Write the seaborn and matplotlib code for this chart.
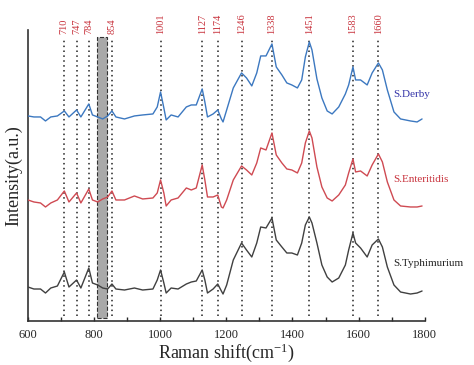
import numpy as np
import matplotlib
matplotlib.use("Agg")
import matplotlib.pyplot as plt
import seaborn as sns

# Raman shift grid (cm-1) shared by the three spectra
shift = [600, 618, 638, 653, 669, 689, 710, 724, 747, 760, 784, 795, 811, 826, 841,
         854, 866, 892, 922, 947, 978, 991, 1001, 1011, 1018, 1033, 1054, 1079, 1094,
         1109, 1127, 1135, 1143, 1160, 1174, 1185, 1190, 1201, 1221, 1246, 1261, 1277,
         1292, 1304, 1320, 1338, 1351, 1368, 1383, 1398, 1415, 1428, 1439, 1451, 1459,
         1474, 1489, 1505, 1520, 1540, 1560, 1570, 1583, 1591, 1606, 1626, 1641, 1660,
         1672, 1687, 1707, 1727, 1757, 1777, 1792]

# intensities (a.u.), stacked with offsets as in the figure
derby = [205, 204, 204, 200, 204, 205, 210, 204, 211, 204, 217, 206, 204, 202, 205,
         210, 204, 202, 205, 206, 207, 214, 229, 213, 201, 206, 204, 214, 216,
         216, 232, 219, 204, 207, 211, 202, 199, 211, 233, 248, 243, 235,
         248, 265, 265, 277, 254, 246, 238, 236, 233, 241, 264, 279, 271,
         242, 223, 210, 207, 214, 227, 236, 254, 241, 241, 236, 248, 258,
         251, 231, 209, 202, 200, 199, 202]

enteritidis = [121, 119, 118, 114, 118, 121, 130, 119, 128, 118, 132, 121, 119, 122, 124,
               130, 121, 121, 125, 122, 123, 128, 141, 128, 115, 121, 123, 133, 131,
               133, 156, 141, 124, 124, 126, 114, 113, 121, 141, 155, 151, 146,
               158, 173, 171, 188, 166, 158, 152, 151, 148, 158, 178, 190, 183,
               154, 134, 123, 120, 126, 136, 148, 162, 149, 150, 145, 156, 167,
               159, 139, 121, 115, 114, 114, 115]

typhimurium = [34, 32, 32, 28, 33, 35, 49, 34, 41, 33, 53, 38, 36, 33, 32,
               37, 32, 31, 33, 31, 32, 41, 51, 38, 28, 33, 32, 37, 39,
               40, 51, 41, 28, 32, 37, 30, 27, 36, 61, 78, 71, 64,
               78, 94, 93, 103, 81, 74, 68, 68, 66, 78, 96, 104, 98,
               78, 56, 44, 39, 43, 56, 71, 88, 78, 73, 64, 76, 82,
               74, 54, 36, 29, 27, 28, 30]

peaks = [710, 747, 784, 854, 1001, 1127, 1174, 1246, 1338, 1451, 1583, 1660]
band = (810, 840)

sns.set_style("ticks")
plt.rcParams['font.family'] = ['Liberation Serif', 'DejaVu Serif']
plt.rcParams['mathtext.fontset'] = 'stix'

fig = plt.figure(figsize=(4.74, 3.65), dpi=100)
ax = fig.add_axes([0.059, 0.1205, 0.837, 0.7975])

# shaded band and dotted peak markers
ax.axvspan(band[0], band[1], ymin=3 / 291, ymax=284 / 291, facecolor='#a9a9a9',
           edgecolor='#333333', linestyle='--', linewidth=0.8, zorder=1)
ax.vlines(peaks, 5, 283, colors='#222222', linestyles=(0, (1, 2.2)), linewidth=1.1, zorder=1)
for p in peaks:
    ax.text(p, 287, str(p), rotation=90, ha='center', va='bottom',
            color='#c8323c', fontsize=7.5)

sns.lineplot(x=shift, y=derby, color='#3c78c0', linewidth=1.0, ax=ax, zorder=3)
sns.lineplot(x=shift, y=enteritidis, color='#cf4a52', linewidth=1.0, ax=ax, zorder=3)
sns.lineplot(x=shift, y=typhimurium, color='#404040', linewidth=1.0, ax=ax, zorder=3)

ax.text(1706, 226, 'S.Derby', color='#3333a8', fontsize=8, va='center', ha='left')
ax.text(1706, 141, 'S.Enteritidis', color='#c8323c', fontsize=8, va='center', ha='left')
ax.text(1706, 58, 'S.Typhimurium', color='#222222', fontsize=8, va='center', ha='left')

ax.set_xlim(600, 1800)
ax.set_ylim(0, 291)
ax.set_xticks(np.arange(600, 1801, 200))
ax.set_xticks(np.arange(700, 1800, 200), minor=True)
ax.set_yticks([])
ax.tick_params(axis='x', which='both', direction='in', length=3, width=1, labelsize=9, pad=6)
sns.despine(ax=ax)
for side in ['left', 'bottom']:
    ax.spines[side].set_linewidth(1.2)
    ax.spines[side].set_color('#333333')

ax.set_xlabel('Raman shift(cm$^{\\mathregular{-1}}$)', fontsize=13, labelpad=0)
ax.set_ylabel('Intensity(a.u.)', fontsize=13, labelpad=4)

fig.savefig('out.png', dpi=100)
